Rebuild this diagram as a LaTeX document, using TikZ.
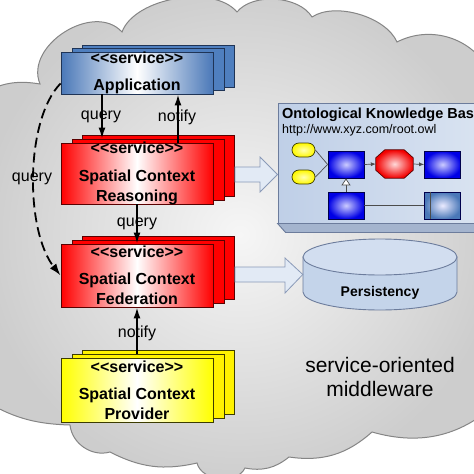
\documentclass[tikz,border=0pt]{standalone}
\usepackage{fontspec}
\setmainfont{Liberation Sans}
\usetikzlibrary{arrows.meta,calc}
\definecolor{appblue}{HTML}{4A78B8}
\definecolor{appback}{HTML}{4F7FBF}
\definecolor{appborder}{HTML}{1F3456}
\definecolor{redborder}{HTML}{5A0000}
\definecolor{yelborder}{HTML}{3C3C00}
\definecolor{okbborder}{HTML}{6C7C9C}
\definecolor{okbleft}{HTML}{BFCFE7}
\definecolor{okbright}{HTML}{D9E3F1}
\definecolor{okbbevel}{HTML}{A4B4CE}
\definecolor{cloudline}{HTML}{858585}
\definecolor{cloudin}{HTML}{F6F6F6}
\definecolor{cloudout}{HTML}{CDCDCD}
\definecolor{barrowfill}{HTML}{E2EAF5}
\definecolor{barrowline}{HTML}{8A9AB8}
\definecolor{cylfill}{HTML}{C4D4EA}
\definecolor{cyltop}{HTML}{D2DEF0}
\newcommand\svctext{<\kern0pt<service>\kern0pt>}
\begin{document}
\begin{tikzpicture}[x=1pt,y=-1pt,
  lbl/.style={font=\fontsize{16}{18}\selectfont, inner sep=0pt},
  stereo/.style={font=\bfseries\fontsize{16}{18}\selectfont, inner sep=0pt},
  ttl/.style={font=\bfseries\fontsize{16}{20}\selectfont, align=center, inner sep=0pt},
  layer/.style={draw, line width=0.9pt, minimum width=152pt, minimum height=#1, inner sep=0pt},
  arr/.style={line width=1.6pt, -{Latex[length=11pt,width=7pt]}},
  dasharr/.style={line width=1.8pt, dash pattern=on 10pt off 5pt, -{Latex[length=12pt,width=8pt]}},
  blu/.style={draw=blue!30!black, line width=0.7pt, inner color=blue!20, outer color=blue!90!black, minimum width=36pt, minimum height=27pt, inner sep=0pt},
  thin/.style={draw=black!70, line width=0.7pt}
]
\clip (0,0) rectangle (474,474);
% cloud
\path[draw=cloudline, line width=1pt, inner color=cloudin, outer color=cloudout]
  (-20,95) to[bend left=20] (40,84)
  to[bend left=80, looseness=1.1] (122,32)
  to[bend left=60, looseness=0.8] (237,12)
  to[bend left=55, looseness=0.85] (312,17)
  to[bend left=50, looseness=0.8] (397,42)
  to[bend left=45] (490,72)
  -- (500,72) -- (500,400)
  to[bend left=30] (372,432)
  to[bend left=25] (289,457)
  to[bend left=25] (245,468)
  to[bend left=70] (197,463)
  to[bend left=20] (110,452)
  to[bend left=50] (70,425)
  to[bend left=15] (-20,398) -- cycle;

% Application
\node[layer=42pt, draw=appborder, fill=appback] (app3) at (158,66) {};
\node[layer=42pt, draw=appborder, fill=appback] (app2) at (148,69.5) {};
\node[layer=42pt, draw=appborder, left color=appblue, right color=appblue, middle color=white] (app) at (137,73) {};
\node[stereo] (appst) at (137,58) {\svctext};
\node[stereo] (appt) at (137,86) {Application};

% Reasoning
\node[layer=61pt, draw=redborder, fill=red] (reas3) at (158,165.5) {};
\node[layer=61pt, draw=redborder, fill=red] (reas2) at (148,169.5) {};
\node[layer=61pt, draw=redborder, left color=red, right color=red, middle color=white] (reas) at (137,173.5) {};
\node[stereo] (reasst) at (137,148) {\svctext};
\node[ttl] (reast) at (137,187.5) {Spatial Context\\Reasoning};

% Federation
\node[layer=63pt, draw=redborder, fill=red] (fed3) at (158,267.5) {};
\node[layer=63pt, draw=redborder, fill=red] (fed2) at (148,271.5) {};
\node[layer=63pt, draw=redborder, left color=red, right color=red, middle color=white] (fed) at (137,275.5) {};
\node[stereo] (fedst) at (137,252) {\svctext};
\node[ttl] (fedt) at (137,288.5) {Spatial Context\\Federation};

% Provider
\node[layer=64pt, draw=yelborder, fill=yellow] (prov3) at (158,382) {};
\node[layer=64pt, draw=yelborder, fill=yellow] (prov2) at (148,386) {};
\node[layer=64pt, draw=yelborder, left color=yellow, right color=yellow, middle color=white] (prov) at (137,390) {};
\node[stereo] (provst) at (137,367) {\svctext};
\node[ttl] (provt) at (137,403.5) {Spatial Context\\Provider};

% connectors
\coordinate (qx) at (102,0);
\coordinate (nx) at (178,0);
\draw[arr] (app.south -| qx) -- (reas2.north -| qx);
\draw[arr] (reas.north -| nx) -- (app.south -| nx);
\draw[arr] (reas.south) -- (fed.north);
\draw[arr] (prov2.north -| fed.south) -- (fed.south);
\draw[dasharr] ($(app.south west)+(0,-11)$) .. controls (25,120) and (25,230) .. (fed.west);
\node[lbl] (l1) at (101,117) {query};
\node[lbl] (l2) at (177,117) {notify};
\node[lbl] (l3) at (137,224) {query};
\node[lbl] (l4) at (137,333) {notify};
\node[lbl] (l5) at (32,179) {query};

% OKB
\node[draw=okbborder, line width=0.9pt, left color=okbleft, right color=okbright, minimum width=202pt, minimum height=120pt, inner sep=0pt] (okb) at (379,163) {};
\path[draw=okbborder, line width=0.9pt, fill=okbbevel] (okb.south west) -- (okb.south east) -- ++(0,9) -- ($(okb.south west)+(8,9)$) -- cycle;
\node[anchor=west, font=\bfseries\fontsize{14.5}{16}\selectfont, inner sep=0pt] (okbt) at (282,115) {Ontological Knowledge Base};
\node[anchor=west, font=\fontsize{12.5}{15}\selectfont, inner sep=0pt] (okbu) at (282,130) {http://www.xyz.com/root.owl};
\node[draw=yelborder, line width=0.7pt, rounded corners=7pt, inner color=yellow!30, outer color=yellow!95!orange, minimum width=23pt, minimum height=14pt, inner sep=0pt] (p1) at (303.5,150) {};
\node[draw=yelborder, line width=0.7pt, rounded corners=7pt, inner color=yellow!30, outer color=yellow!95!orange, minimum width=23pt, minimum height=14pt, inner sep=0pt] (p2) at (303.5,177) {};
\node[blu] (b1) at (346,164.5) {};
\node[blu] (b3) at (442.5,164.5) {};
\node[blu] (b4) at (346,205.5) {};
\node[draw=blue!30!black, line width=0.7pt, inner color=blue!8, outer color=appblue, minimum width=36pt, minimum height=27pt, inner sep=0pt] (b5) at (442.5,205.5) {};
\node[minimum width=37pt, minimum height=28pt, inner sep=0pt] (oct) at (394.5,164) {};
\path[draw=redborder, line width=0.7pt, inner color=red!15, outer color=red!95!black]
  ($(oct.north west)+(9,0)$) -- ($(oct.north east)+(-9,0)$) -- ($(oct.north east)+(0,8)$)
  -- ($(oct.south east)+(0,-8)$) -- ($(oct.south east)+(-9,0)$) -- ($(oct.south west)+(9,0)$)
  -- ($(oct.south west)+(0,-8)$) -- ($(oct.north west)+(0,8)$) -- cycle;
\draw[thin] (p1.east) -- (b1.west);
\draw[thin] (p2.east) -- (b1.west);
\draw[thin, -{Latex[length=5pt,width=4pt]}] (b1.east) -- (oct.west);
\draw[thin, -{Latex[length=5pt,width=4pt]}] (oct.east) -- (b3.west);
\draw[thin, -{Triangle[fill=white,length=7pt,width=9pt]}] (b4.north) -- (b1.south);
\draw[thin] (b4.east) -- (b5.west);
\draw[thin] ($(b5.north west)+(6,0)$) -- ($(b5.south west)+(6,0)$);

% block arrows
\path[draw=barrowline, fill=barrowfill, line width=0.8pt] (235,167) -- (260,167) -- (260,157) -- (okb.west |- 0,174.5) -- (260,192) -- (260,182) -- (235,182) -- cycle;

% Persistency
\node[minimum width=154pt, minimum height=71pt, inner sep=0pt] (pers) at (380,274.5) {};
\path[draw=okbborder, line width=0.9pt, fill=cylfill] (303,257) -- (303,292) arc[start angle=180, end angle=360, x radius=77pt, y radius=18pt] -- (457,257) -- cycle;
\path[draw=okbborder, line width=0.9pt, fill=cyltop] (380,257) ellipse[x radius=77pt, y radius=18pt];
\node[font=\bfseries\fontsize{14}{16}\selectfont, inner sep=0pt] (perst) at (380,293) {Persistency};
\path[draw=barrowline, fill=barrowfill, line width=0.8pt] (235,267) -- (285,267) -- (285,258) -- (pers.west) -- (285,293) -- (285,282) -- (235,282) -- cycle;

\node[font=\fontsize{21}{24}\selectfont, align=center, inner sep=0pt] (som) at (380,377) {service-oriented\\middleware};
\end{tikzpicture}
\end{document}
